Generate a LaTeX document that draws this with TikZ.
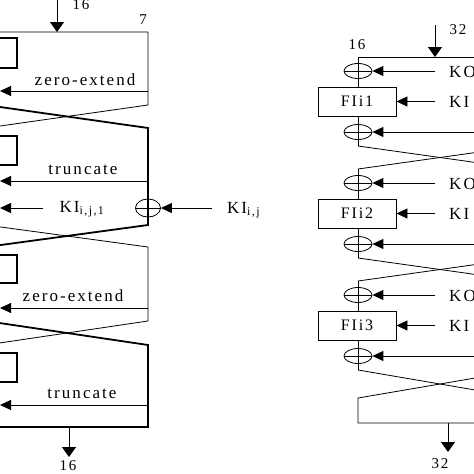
\documentclass[tikz,border=0pt]{standalone}
\usepackage{fontspec}
\setmainfont{Liberation Serif}[LetterSpace=12]
\usetikzlibrary{arrows.meta,shapes.geometric}
\begin{document}
\begin{tikzpicture}[x=1pt,y=-1pt,
  ln/.style={line width=0.8pt},
  lnk/.style={line width=1.8pt},
  arr/.style={line width=0.9pt,-{Triangle[length=11pt,width=10pt]}},
  bigarr/.style={line width=1pt,-{Triangle[length=10pt,width=14pt]}},
  lbl/.style={font=\fontsize{17}{20}\selectfont, inner sep=0pt},
  num/.style={font=\fontsize{15}{18}\selectfont, inner sep=0pt},
  lbox/.style={draw, line width=1.5pt, minimum width=57pt, inner sep=0pt},
  fbox/.style={draw, fill=white, line width=0.9pt, minimum width=78pt, minimum height=29pt, inner sep=0pt, font=\fontsize{16}{19}\selectfont},
  xorR/.style={draw, ellipse, minimum width=28pt, minimum height=15pt, inner sep=0pt, line width=0.8pt},
  xorL/.style={draw, ellipse, minimum width=25pt, minimum height=18pt, inner sep=0pt, line width=0.8pt},
]
\useasboundingbox (0,0) rectangle (474,474);

% ---------------- left structure ----------------
\coordinate (LT) at (-20,32);
\coordinate (R1a) at (148,32);
\coordinate (R1b) at (148,105);
\coordinate (L1b) at (-14,105);
\coordinate (R2a) at (148,128);
\coordinate (L2a) at (-14,128);
\coordinate (R2b) at (148,225);
\coordinate (L2b) at (-14,225);
\coordinate (R3a) at (148,247);
\coordinate (L3a) at (-14,247);
\coordinate (R3b) at (148,321);
\coordinate (L3b) at (-14,321);
\coordinate (R4a) at (148,345);
\coordinate (L4a) at (-14,345);
\coordinate (R4b) at (148,427);
\coordinate (LB) at (-20,427);

\draw[ln] (LT) -- (R1a) -- (R1b) -- (L2a);
\draw[lnk] (L1b) -- (R2a) -- (R2b) -- (L3a);
\draw[ln] (L2b) -- (R3a) -- (R3b) -- (L4a);
\draw[lnk] (L3b) -- (R4a) -- (R4b) -- (LB);

% boxes at left edge
\node[lbox, minimum height=30pt] (b1) at (-11.5,53) {};
\node[lbox, minimum height=29pt] (b2) at (-11.5,150.5) {};
\node[lbox, minimum height=28pt] (b3) at (-11.5,269) {};
\node[lbox, minimum height=29pt] (b4) at (-11.5,367.5) {};

% input / output
\coordinate (inS) at (57,-2);
\coordinate (inE) at (57,32);
\draw[bigarr] (inS) -- (inE);
\node[num] (n16a) at (81,5) {16};
\node[num] (n7) at (143,20) {7};
\coordinate (outS) at (69,427);
\coordinate (outE) at (69,457);
\draw[bigarr] (outS) -- (outE);
\node[num] (n16b) at (68,466) {16};

% labelled arrows
\node[lbl, anchor=base] (ze1) at (85,85) {zero-extend};
\coordinate (a1s) at (148,91); \coordinate (a1e) at (0,91);
\draw[arr] (a1s) -- (a1e);
\node[lbl, anchor=base] (tr1) at (83,174) {truncate};
\coordinate (a2s) at (148,181); \coordinate (a2e) at (0,181);
\draw[arr] (a2s) -- (a2e);
\node[lbl, anchor=base] (kij1) at (82,212) {KI\textsubscript{i,j,1}};
\coordinate (a3s) at (43,208); \coordinate (a3e) at (0,208);
\draw[arr] (a3s) -- (a3e);
\node[xorL] (xl) at (148,208) {};
\draw[ln] (xl.west) -- (xl.east);
\node[lbl, anchor=base west] (kij) at (227,213) {KI\textsubscript{i,j}};
\coordinate (a4s) at (212,208);
\draw[arr] (a4s) -- (xl.east);
\node[lbl, anchor=base] (ze2) at (73,301) {zero-extend};
\coordinate (a5s) at (148,308); \coordinate (a5e) at (0,308);
\draw[arr] (a5s) -- (a5e);
\node[lbl, anchor=base] (tr2) at (82,398) {truncate};
\coordinate (a6s) at (148,405); \coordinate (a6e) at (0,405);
\draw[arr] (a6s) -- (a6e);

% ---------------- right structure ----------------
\coordinate (rT0) at (358,57);
\coordinate (rT1) at (500,57);
\draw[ln] (rT1) -- (rT0);
\coordinate (rinS) at (435,25);
\coordinate (rinE) at (435,57);
\draw[bigarr] (rinS) -- (rinE);
\node[num] (n32a) at (458,30) {32};
\node[num] (n16c) at (357,45) {16};

\foreach \k/\d in {1/0,2/112,3/224}{
  \coordinate (vt\k) at (358,57+\d);
  \coordinate (vb\k) at (358,146+\d);
  \draw[ln] (vt\k) -- (vb\k);
  \node[xorR] (xa\k) at (358,71+\d) {};
  \draw[ln] (xa\k.west) -- (xa\k.east);
  \coordinate (koS\k) at (435,71+\d);
  \draw[arr] (koS\k) -- (xa\k.east);
  \node[lbl, anchor=base west] (ko\k) at (449,77+\d) {KO};
  \node[fbox] (fb\k) at (357,101.5+\d) {FIi\k};
  \coordinate (kiS\k) at (435,101.5+\d);
  \draw[arr] (kiS\k) -- (fb\k.east);
  \node[lbl, anchor=base west] (ki\k) at (449,107+\d) {KI};
  \node[xorR] (xb\k) at (358,132+\d) {};
  \draw[ln] (xb\k.west) -- (xb\k.east);
  \coordinate (kbS\k) at (490,132+\d);
  \draw[arr] (kbS\k) -- (xb\k.east);
}
% crossings
\coordinate (c1a) at (522,169); \coordinate (c1b) at (358,169); \coordinate (c1c) at (522,146);
\draw[ln] (vb1) -- (c1a);
\draw[ln] (c1b) -- (c1c);
\coordinate (c2a) at (522,281); \coordinate (c2b) at (358,281); \coordinate (c2c) at (522,258);
\draw[ln] (vb2) -- (c2a);
\draw[ln] (c2b) -- (c2c);
\coordinate (c3a) at (522,398); \coordinate (c3b) at (358,398); \coordinate (c3c) at (522,370);
\draw[ln] (vb3) -- (c3a);
\coordinate (rB0) at (358,423); \coordinate (rB1) at (500,423);
\draw[ln] (c3c) -- (c3b) -- (rB0) -- (rB1);
\coordinate (routS) at (448,423);
\coordinate (routE) at (448,452);
\draw[bigarr] (routS) -- (routE);
\node[num] (n32b) at (440,464) {32};
\end{tikzpicture}
\end{document}
